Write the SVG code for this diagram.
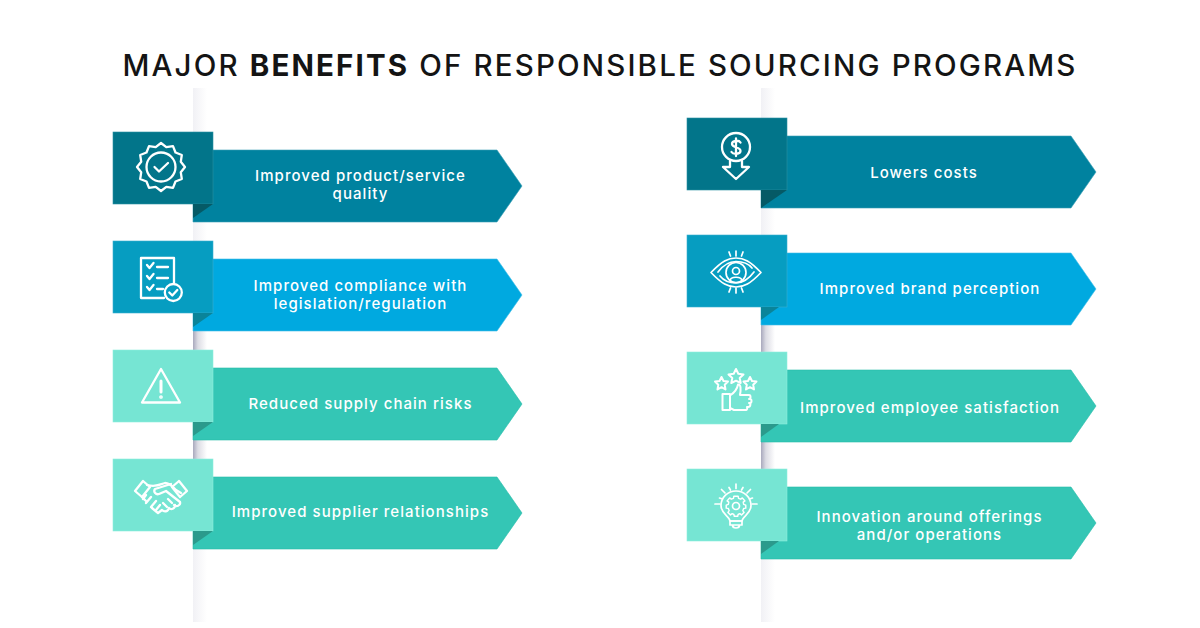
<svg xmlns="http://www.w3.org/2000/svg" width="1200" height="628" viewBox="0 0 1200 628">
<style>
text{font-family:"Inter","Open Sans","Liberation Sans",sans-serif}
.title{font-size:29.5px;fill:#141414;letter-spacing:2.14px;font-weight:500}
.title .b{font-weight:700}
.lbl{font-size:15px;font-weight:500;fill:#fff;letter-spacing:1.05px;text-anchor:middle}
.ic{fill:none;stroke:#fff;stroke-width:2.3;stroke-linecap:round;stroke-linejoin:round}
.d .bx{fill:#02758a;stroke:#2a8fa1;stroke-width:.6}.d .ar{fill:#00829f;stroke:#3a9fb6;stroke-width:.6}.d .fd{fill:#055a66}
.u .bx{fill:#069dc1;stroke:#3ab0cf;stroke-width:.6}.u .ar{fill:#00a9e0;stroke:#3fbde8;stroke-width:.6}.u .fd{fill:#0a8499}
.t .bx{fill:#76e5d3;stroke:#8eeedd;stroke-width:.6}.t .ar{fill:#34c6b5;stroke:#25bcaa;stroke-width:.6}.t .fd{fill:#2b9a8c}
</style>
<defs>
<linearGradient id="sh" x1="0" x2="1" y1="0" y2="0"><stop offset="0" stop-color="#a9a9bd"/><stop offset=".35" stop-color="#dcdce4"/><stop offset="1" stop-color="#fff"/></linearGradient>
<linearGradient id="sf" x1="0" x2="1" y1="0" y2="0"><stop offset="0" stop-color="#f1f1f5"/><stop offset="1" stop-color="#fff"/></linearGradient>
<path id="arl" d="M0 0H304L329 36L304 72H0Z"/>
<path id="arr" d="M0 0H310L335 36L310 72H0Z"/>
</defs>
<rect width="1200" height="628" fill="#fff"/>
<text class="title" x="600" y="76" text-anchor="middle">MAJOR <tspan class="b">BENEFITS</tspan> OF RESPONSIBLE SOURCING PROGRAMS</text>
<g id="spines">
<rect x="193" y="88" width="14" height="44" fill="url(#sf)"/>
<rect x="193" y="222" width="14" height="19" fill="url(#sf)"/>
<rect x="193" y="331" width="14" height="19" fill="url(#sh)"/>
<rect x="193" y="440" width="14" height="19" fill="url(#sh)"/>
<rect x="193" y="549" width="14" height="73" fill="url(#sf)"/>
<rect x="761" y="88" width="14" height="30" fill="url(#sf)"/>
<rect x="761" y="208" width="14" height="27" fill="url(#sf)"/>
<rect x="761" y="325" width="14" height="27" fill="url(#sh)"/>
<rect x="761" y="442" width="14" height="27" fill="url(#sh)"/>
<rect x="761" y="559" width="14" height="63" fill="url(#sf)"/>
</g>
<g id="connectors"/>

<g id="node-quality" class="d">
<use href="#arl" class="ar" x="193" y="150"/>
<rect class="bx" x="113" y="132" width="100" height="72"/>
<path class="fd" d="M193 204H213L193 218Z"/>
<g class="ic" transform="translate(161 167)">
<path d="M24 0L19.8 5.3L20.8 12L14.5 14.5L12 20.8L5.3 19.8L0 24L-5.3 19.8L-12 20.8L-14.5 14.5L-20.8 12L-19.8 5.3L-24 0L-19.8 -5.3L-20.8 -12L-14.5 -14.5L-12 -20.8L-5.3 -19.8L0 -24L5.3 -19.8L12 -20.8L14.5 -14.5L20.8 -12L19.8 -5.3Z"/>
<circle r="14.500"/>
<path d="M-6.500 0L-2 4.500L7 -4"/>
</g>
<text class="lbl" x="360.500" y="181">Improved product/service</text>
<text class="lbl" x="360.500" y="199">quality</text>
</g>

<g id="node-compliance" class="u">
<use href="#arl" class="ar" x="193" y="259"/>
<rect class="bx" x="113" y="241" width="100" height="72"/>
<path class="fd" d="M193 313H213L193 327Z"/>
<g class="ic">
<path d="M164 298H141V258H174V283"/>
<path d="M147 265L149.500 268L153.500 263M147 276L149.500 279L153.500 274M147 287L149.500 290L153.500 285"/>
<path d="M157 267H168M157 278H168M157 289H163"/>
<circle cx="173.300" cy="292.500" r="8.500"/>
<path d="M169.300 292.500L172.300 295.500L177.300 290"/>
</g>
<text class="lbl" x="360.500" y="291">Improved compliance with</text>
<text class="lbl" x="360.500" y="309">legislation/regulation</text>
</g>

<g id="node-risks" class="t">
<use href="#arl" class="ar" x="193" y="368"/>
<rect class="bx" x="113" y="350" width="100" height="72"/>
<path class="fd" d="M193 422H213L193 436Z"/>
<g class="ic">
<path d="M161 369L180 402.500H142Z"/>
<path d="M161 381V392" stroke-width="3"/>
<circle cx="161" cy="397" r=".7"/>
</g>
<text class="lbl" x="360.500" y="409">Reduced supply chain risks</text>
</g>

<g id="node-supplier" class="t">
<use href="#arl" class="ar" x="193" y="477"/>
<rect class="bx" x="113" y="459" width="100" height="72"/>
<path class="fd" d="M193 531H213L193 545Z"/>
<g class="ic">
<path d="M135 491L143 481L150 487L142 497Z"/>
<path d="M187 491L179 481L172 487L180 497Z"/>
<path d="M147 485C155 487 158 485 165 483C170 483 173 487 176 490L181 493"/>
<path d="M171 484L155 489C153 492 156 495 159 494L166 491L180 502C181 506 176 507 174 505M175 505C175 509 171 510 169 508M169 508C168 512 164 512 162 510L158 513L152 508"/>
<path d="M142 497L146 501M146 495L143 499M151 497L146 503M156 501L151 507M160 505L156 510M172 503L168 499M167 507L163 503"/>
</g>
<text class="lbl" x="360.500" y="517">Improved supplier relationships</text>
</g>

<g id="node-costs" class="d">
<use href="#arr" class="ar" x="761" y="136"/>
<rect class="bx" x="687" y="118" width="100" height="72"/>
<path class="fd" d="M761 190H787L761 208Z"/>
<g class="ic">
<circle cx="736" cy="147" r="14"/>
<path d="M740.500 142.500C739 140 732 140 732 144C732 148 740.500 146.500 740.500 151C740.500 154.500 733 154.500 731.500 152M736 138.500V156"/>
<path d="M730 161V167H723L736 179L749 167H742V161"/>
</g>
<text class="lbl" x="924" y="178">Lowers costs</text>
</g>

<g id="node-brand" class="u">
<use href="#arr" class="ar" x="761" y="253"/>
<rect class="bx" x="687" y="235" width="100" height="72"/>
<path class="fd" d="M761 307H779L761 320Z"/>
<g class="ic" style="stroke-width:1.700px">
<path d="M711 272.500C722 261 728 258 736 258C744 258 750 261 761 272.500C750 284 744 287 736 287C728 287 722 284 711 272.500Z"/>
<path d="M718 272C724 264 730 261.500 736 261.500C742 261.500 748 263 752 268M754 272C748 280 742 283 736 283C730 283 724 281 720 276"/>
<circle cx="736" cy="272.500" r="10"/>
<circle cx="736" cy="271" r="3.500"/>
<path d="M730 281C730 276 742 276 742 281"/>
<path d="M736 251V256M729 252L730.500 256M743 252L741.500 256M736 288V293M729 292L730.500 288M743 292L741.500 288"/>
</g>
<text class="lbl" x="930" y="294">Improved brand perception</text>
</g>

<g id="node-employee" class="t">
<use href="#arr" class="ar" x="761" y="370"/>
<rect class="bx" x="687" y="352" width="100" height="72"/>
<path class="fd" d="M761 424H779L761 437Z"/>
<g class="ic" style="stroke-width:2px">
<path d="M736 369L738.300 373.800L743.500 374.500L739.700 378L740.700 383L736 380.700L731.300 383L732.300 378L728.500 374.500L733.700 373.800Z"/>
<path d="M721.500 377L723.500 381L728 381.500L724.700 384.700L725.500 389.500L721.500 387.200L717.500 389.500L718.300 384.700L715 381.500L719.500 381Z"/>
<path d="M750 377L752 381L756.500 381.500L753.200 384.700L754 389.500L750 387.200L746 389.500L746.800 384.700L743.500 381.500L748 381Z"/>
<path d="M722.500 394H730V410H722.500Z"/>
<path d="M730 395.500C734 393 737 390 738 384.500C741 384 741 389 740 395H749C751 395 751 399 749 399H750C752 399 752 403 750 403H749C751 403 751 407 748 407H747C748 410 746 410 745 410H734L730 408"/>
</g>
<text class="lbl" x="930" y="413">Improved employee satisfaction</text>
</g>

<g id="node-innovation" class="t">
<use href="#arr" class="ar" x="761" y="487"/>
<rect class="bx" x="687" y="469" width="100" height="72"/>
<path class="fd" d="M761 541H779L761 554Z"/>
<g class="ic" style="stroke-width:1.700px">
<path d="M730 521C729.500 516 721 514 721 505.500C721 497 728 491 736 491C744 491 751 497 751 505.500C751 514 742.500 516 742 521Z"/>
<path d="M730 521H742V525H730ZM732.500 525C732.500 529 739.500 529 739.500 525"/>
<circle cx="736" cy="506" r="3.500"/>
<path transform="translate(736 506) scale(.85) translate(-736 -500)" d="M733.500 488.500H738.500L739 491L741.500 492L743.500 490.500L746.500 494L744.500 495.500L745 498L747.500 499V502.500L745 503L744 505.500L745.500 507.500L742.500 510.500L740.500 509L738.500 510L738 512H734L733.500 510L731.500 509L729.500 510.500L726.500 507.500L728 505.500L727 503L724.500 502.500V499L727 498L727.500 495.500L725.500 494L728.500 490.500L730.500 492L733 491Z"/>
<path d="M736 484V488.500M715 504H720M757 504H752M719.500 498L722.500 499M752.500 498L749.500 499M721.500 489.500L725 493M750.500 489.500L747 493M729 487.500L730.500 490M743 487.500L741.500 490"/>
</g>
<text class="lbl" x="929.500" y="522">Innovation around offerings</text>
<text class="lbl" x="929.500" y="540">and/or operations</text>
</g>
</svg>
